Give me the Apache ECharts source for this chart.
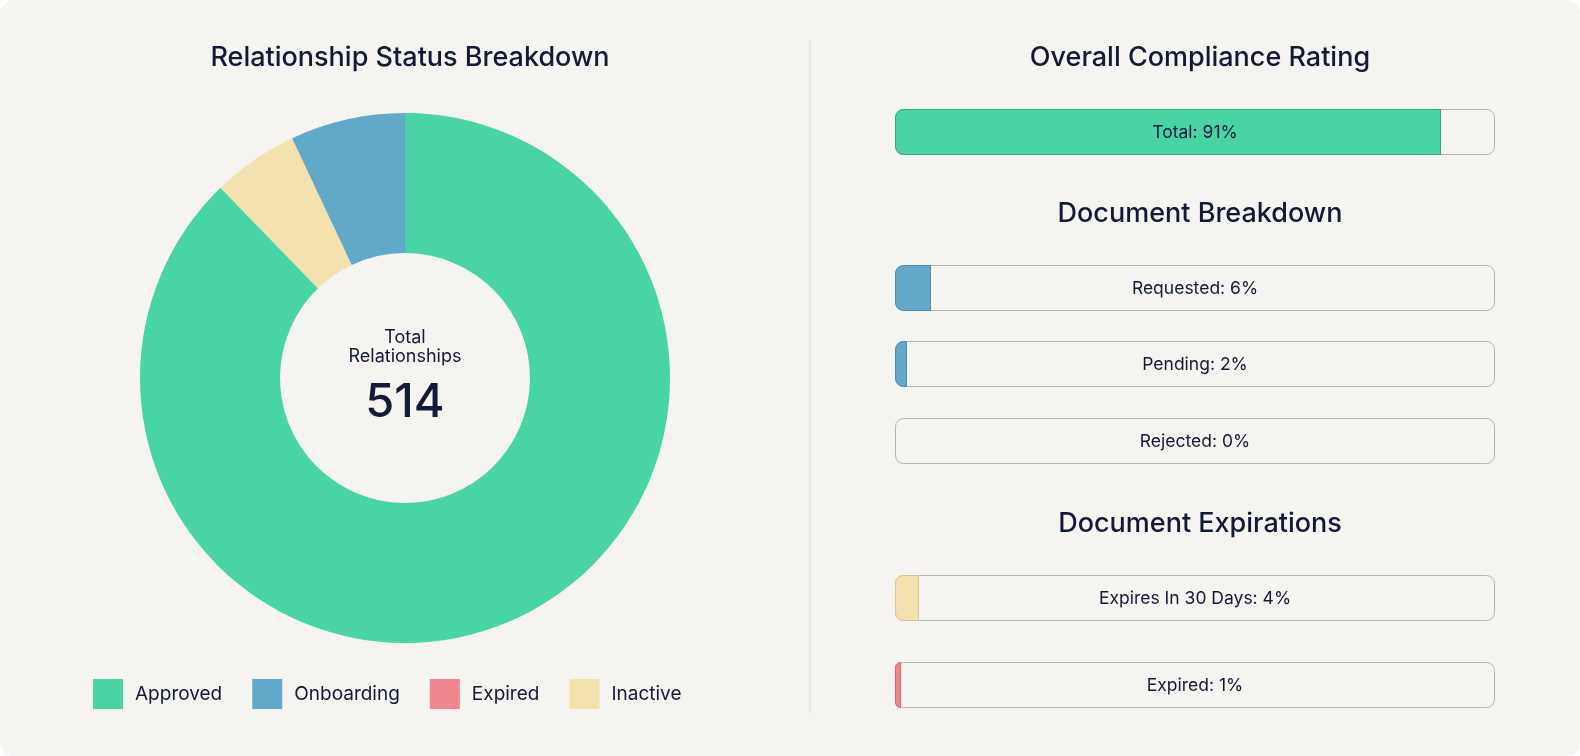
<!DOCTYPE html>
<html>
<head>
<meta charset="utf-8">
<script src="https://cdn.jsdelivr.net/npm/echarts@6/dist/echarts.min.js"></script>
<style>
html,body{margin:0;padding:0;background:#ffffff;}
#chart{width:1580px;height:756px;background:#F5F4F0;border-radius:14px;overflow:hidden;}
</style>
</head>
<body>
<div id="chart"></div>
<script>
// ---- data ----
const statusNames = ['Approved', 'Expired', 'Inactive', 'Onboarding'];
const statusValues = [451, 0, 27, 36];
const statusColors = ['#48D4A5', '#F0868F', '#F4E2AE', '#61A8C9'];
const legendOrder = ['Approved', 'Onboarding', 'Expired', 'Inactive'];
const totalRelationships = 514;

const barLabels = ['Total', 'Requested', 'Pending', 'Rejected', 'Expires In 30 Days', 'Expired'];
const barValues = [91, 6, 2, 0, 4, 1];
const barColors = ['#48D4A5', '#61A8C9', '#61A8C9', '#61A8C9', '#F4E2AE', '#F0868F'];
const barBorders = ['#3AA583', '#4E8FAE', '#4E8FAE', '#4E8FAE', '#D9C48C', '#D06A73'];

const sectionTitles = ['Overall Compliance Rating', 'Document Breakdown', 'Document Expirations'];

// ---- layout ----
const FONT = 'Inter, "Noto Sans", sans-serif';
const TEXT = '#121A35';
const barTops = [109, 265, 341, 418, 575, 662];
const BAR_LEFT = 895, BAR_W = 600, BAR_H = 46;

const chart = echarts.init(document.getElementById('chart'), null, {renderer: 'canvas'});

const grids = [], xAxes = [], yAxes = [], series = [];

series.push({
  type: 'pie',
  center: [405, 378],
  radius: [125, 265],
  startAngle: 90,
  clockwise: true,
  avoidLabelOverlap: false,
  label: {show: false},
  labelLine: {show: false},
  silent: true,
  emphasis: {disabled: true},
  itemStyle: {borderWidth: 0},
  data: statusNames.map((n, i) => ({name: n, value: statusValues[i], itemStyle: {color: statusColors[i]}}))
});

barLabels.forEach((lab, i) => {
  grids.push({left: BAR_LEFT, top: barTops[i], width: BAR_W, height: BAR_H, containLabel: false});
  xAxes.push({type: 'value', gridIndex: i, min: 0, max: 100, show: false});
  yAxes.push({type: 'category', gridIndex: i, data: [lab], show: false});
  series.push({
    type: 'bar', xAxisIndex: i, yAxisIndex: i, barWidth: BAR_H, barGap: '-100%', silent: true,
    data: [100],
    itemStyle: {color: '#F5F4F0', borderColor: '#B3B2B8', borderWidth: 1, borderRadius: 8},
    z: 1
  });
  if (barValues[i] > 0) {
    series.push({
      type: 'bar', xAxisIndex: i, yAxisIndex: i, barWidth: BAR_H, barGap: '-100%', silent: true,
      data: [barValues[i]],
      itemStyle: {color: barColors[i], borderColor: barBorders[i], borderWidth: 1, borderRadius: [8, 0, 0, 8]},
      z: 2
    });
  }
  series.push({
    type: 'bar', xAxisIndex: i, yAxisIndex: i, barWidth: BAR_H, barGap: '-100%', silent: true,
    data: [100],
    itemStyle: {color: 'rgba(0,0,0,0)'},
    label: {
      show: true, position: 'inside', color: TEXT, fontFamily: FONT, fontSize: 17.5, offset: [0, 1],
      formatter: () => lab + ': ' + barValues[i] + '%'
    },
    z: 3
  });
});

const titleYs = [53, 209, 519];

chart.setOption({
  animation: false,
  backgroundColor: 'transparent',
  title: [
    {text: 'Relationship Status Breakdown', left: 405, top: 53, textAlign: 'center', textVerticalAlign: 'middle',
      textStyle: {color: TEXT, fontFamily: FONT, fontSize: 27, fontWeight: 500}},
  ].concat(sectionTitles.map((t, i) => ({
    text: t, left: 1195, top: titleYs[i], textAlign: 'center', textVerticalAlign: 'middle',
    textStyle: {color: TEXT, fontFamily: FONT, fontSize: 27, fontWeight: 500}
  }))),
  legend: {
    left: 88, top: 674, itemWidth: 30, itemHeight: 30, itemGap: 30,
    icon: 'rect', data: legendOrder, selectedMode: false,
    textStyle: {color: TEXT, fontFamily: FONT, fontSize: 19, padding: [0, 0, 0, 7]}
  },
  graphic: [
    {type: 'line', shape: {x1: 810, y1: 40, x2: 810, y2: 713}, style: {stroke: '#D6D5D2', lineWidth: 1}, silent: true},
    {type: 'text', x: 405, y: 338, style: {text: 'Total', fill: TEXT, font: '400 18px ' + FONT, textAlign: 'center', textVerticalAlign: 'middle'}},
    {type: 'text', x: 405, y: 357, style: {text: 'Relationships', fill: TEXT, font: '400 18px ' + FONT, textAlign: 'center', textVerticalAlign: 'middle'}},
    {type: 'text', x: 405, y: 403, style: {text: String(totalRelationships), fill: TEXT, font: '500 47px ' + FONT, textAlign: 'center', textVerticalAlign: 'middle'}}
  ],
  grid: grids,
  xAxis: xAxes,
  yAxis: yAxes,
  series: series
});
</script>
</body>
</html>
